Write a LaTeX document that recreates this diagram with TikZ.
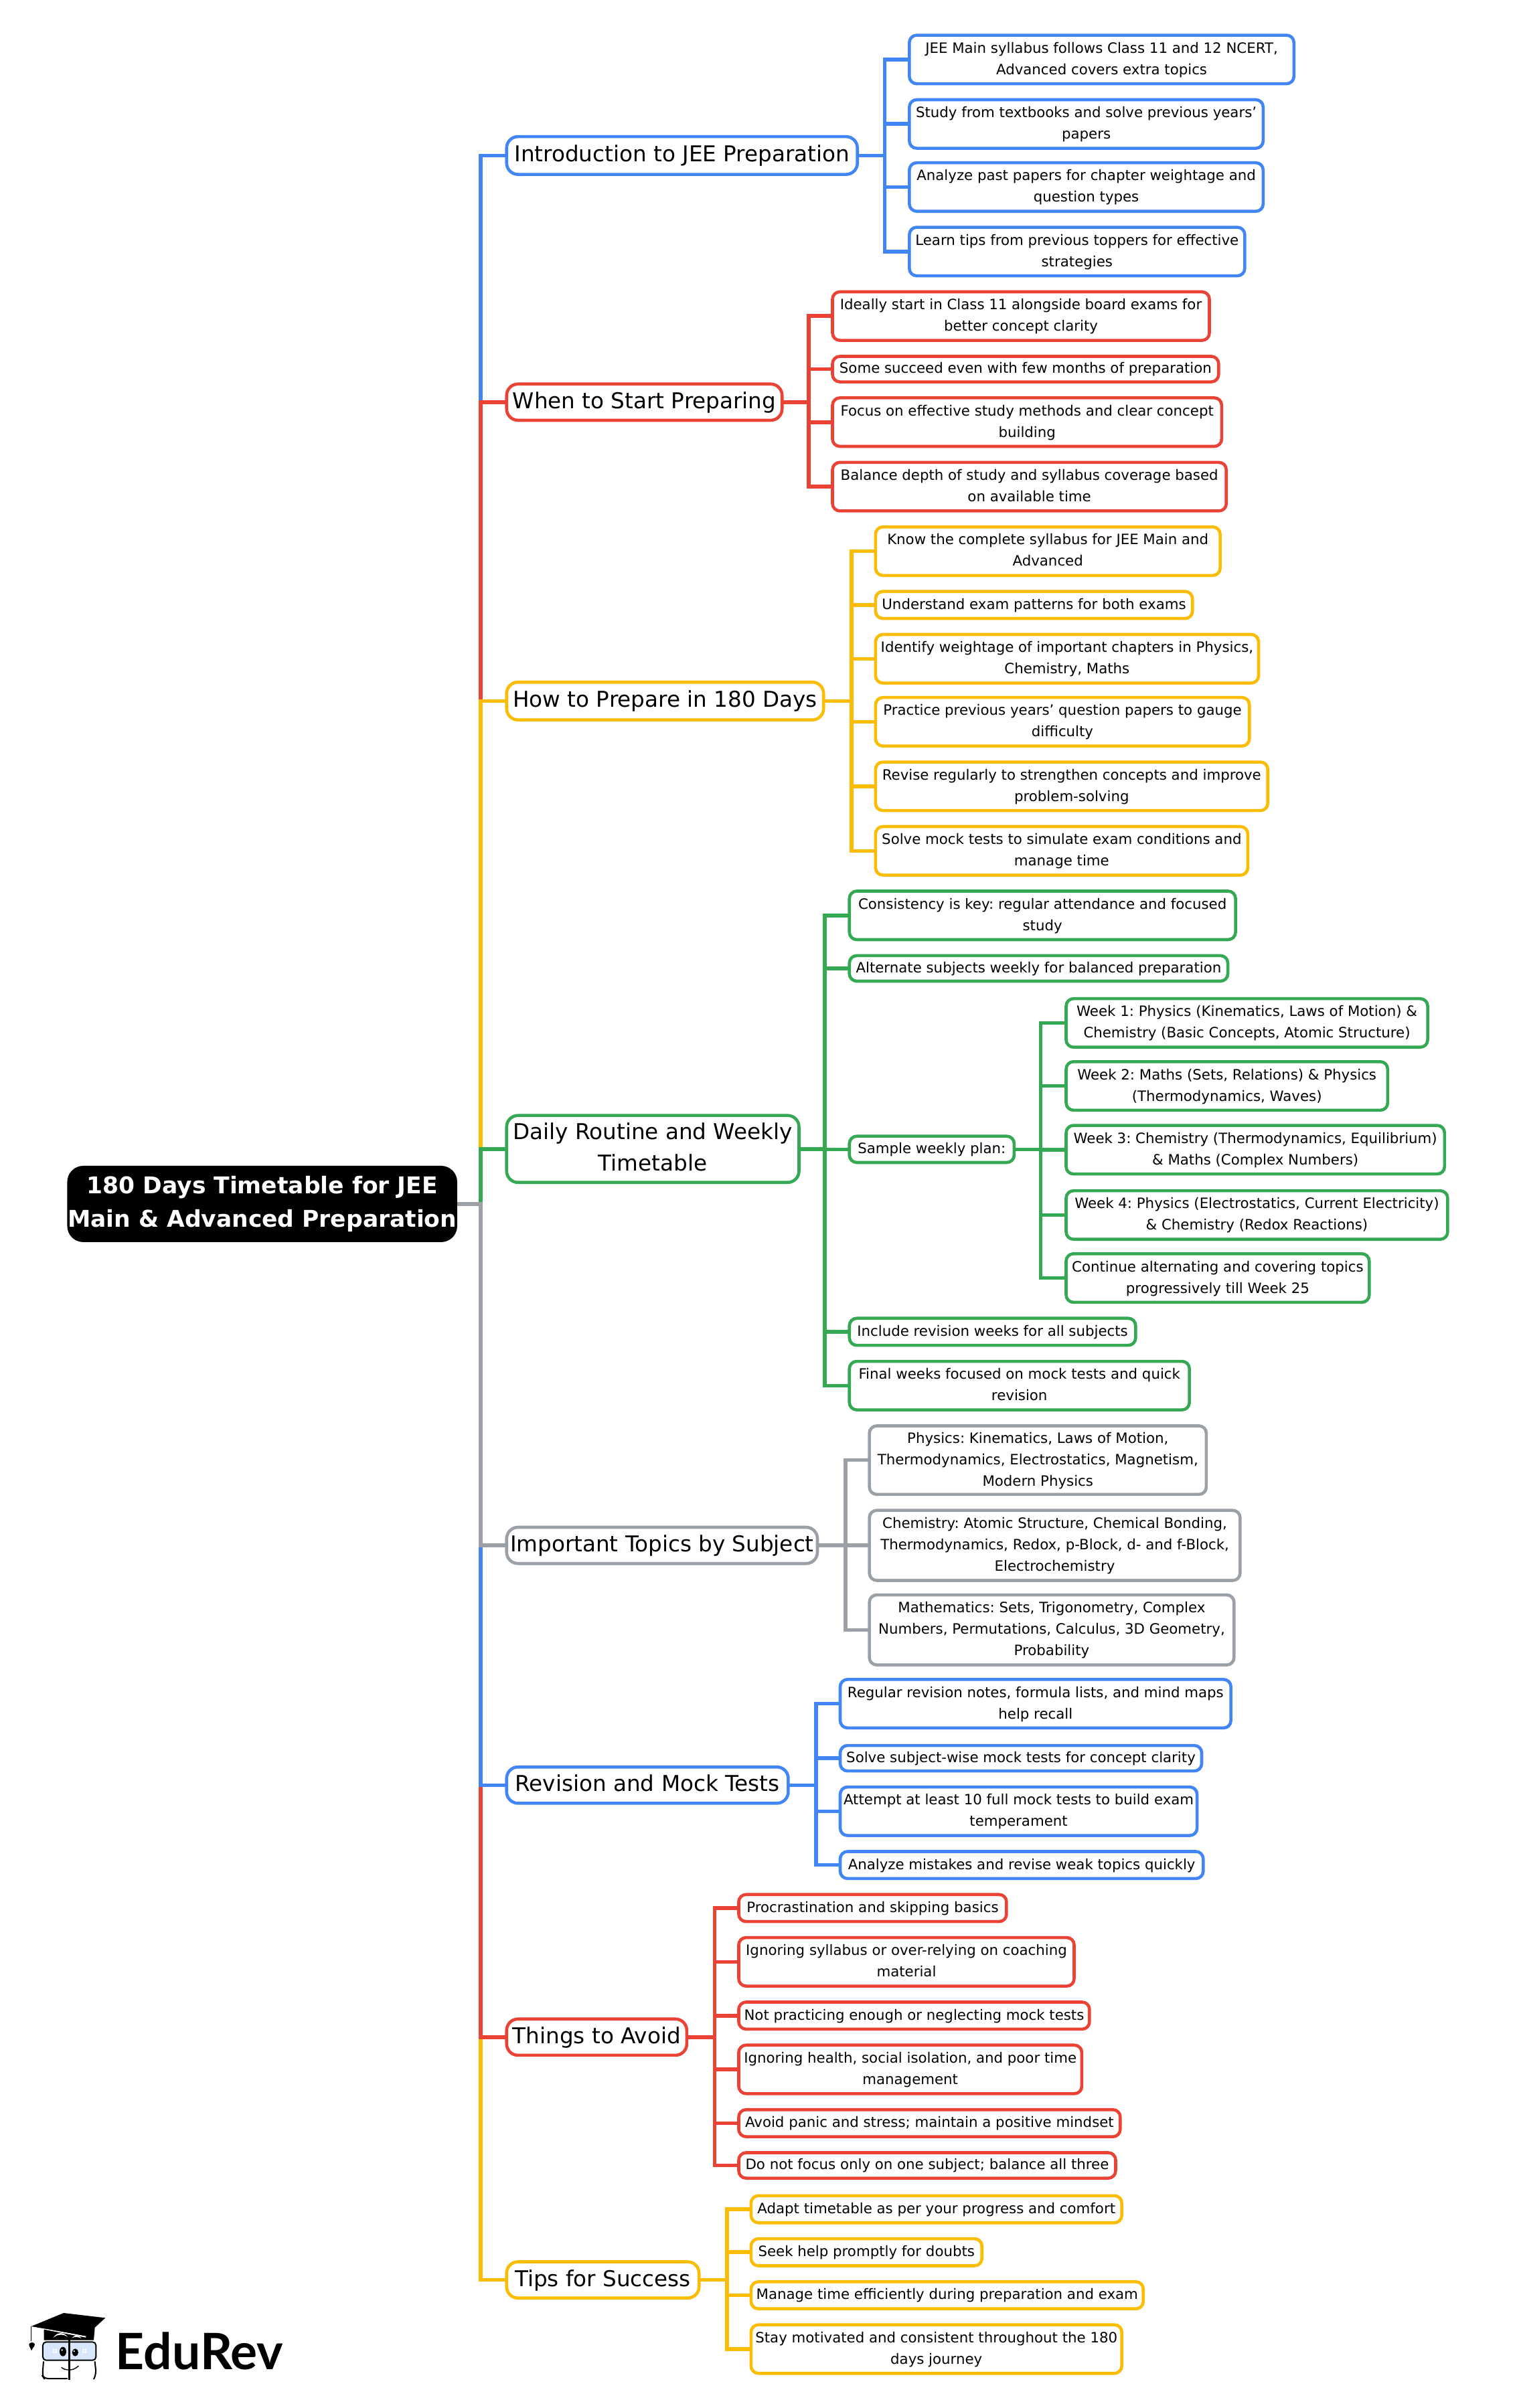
\documentclass[tikz,border=0pt]{standalone}
\usepackage{fontspec}
\setmainfont{DejaVu Sans}
\newfontfamily\logofont{Lato}
\frenchspacing
\definecolor{cB}{HTML}{4285F4}
\definecolor{cR}{HTML}{EA4335}
\definecolor{cY}{HTML}{FBBC04}
\definecolor{cG}{HTML}{34A853}
\definecolor{cK}{HTML}{9AA0A6}
\tikzset{
  boxbase/.style={rectangle,inner sep=0pt,outer sep=0pt,text=black},
  lf/.style={boxbase,draw=#1,line width=4.6pt,rounded corners=11pt,font=\fontsize{21.3}{32}\selectfont,/utils/exec={\def\tshift{-1.3pt}}},
  br/.style={boxbase,draw=#1,line width=4.6pt,rounded corners=17pt,font=\fontsize{32.6}{47}\selectfont,/utils/exec={\def\tshift{-3pt}}},
  rootbox/.style={rectangle,inner sep=0pt,outer sep=0pt,fill=black,text=white,rounded corners=24pt,font=\fontsize{34.5}{50}\selectfont\bfseries,/utils/exec={\def\tshift{-3.3pt}}},
  conn/.style={draw=#1,line width=5.6pt,line join=miter,line cap=butt},
}
\newcommand\lines[1]{\raisebox{\tshift}{\begin{tabular}{@{}c@{}}#1\end{tabular}}}
\newcommand\bx[7]{%
  \pgfmathsetmacro\bw{(#4-#3-0.8)*2.296}%
  \pgfmathsetmacro\bh{(#6-#5-0.4)*2.296}%
  \node[#2,minimum width=\bw pt,minimum height=\bh pt] (#1) at ({(#3+#4)/2-0.8},{(#5+#6)/2-0.3}) {\lines{#7}};}
\begin{document}
\begin{tikzpicture}[x=2.296pt,y=-2.296pt]
\useasboundingbox (0,0) rectangle (986.93,1567.07);
% root
\node[rootbox,minimum width=582.5pt,minimum height=114pt] (root) at (170.6,783.5) {\lines{180 Days Timetable for JEE\\Main \& Advanced Preparation}};
% branches
\bx{intro}{br=cB}{330}{559}{89}{114}{Introduction to JEE Preparation}
\bx{when}{br=cR}{330}{510}{250}{274}{When to Start Preparing}
\bx{how}{br=cY}{330}{537}{444}{469}{How to Prepare in 180 Days}
\bx{daily}{br=cG}{330}{521}{726}{770}{Daily Routine and Weekly\\Timetable}
\bx{imp}{br=cK}{330}{533}{994}{1018}{Important Topics by Subject}
\bx{rev}{br=cB}{330}{514}{1150}{1174}{Revision and Mock Tests}
\bx{thi}{br=cR}{330}{448}{1314}{1338}{Things to Avoid}
\bx{tip}{br=cY}{330}{456}{1472}{1496}{Tips for Success}
% intro leaves
\bx{i1}{lf=cB}{592}{843}{23}{55}{JEE Main syllabus follows Class 11 and 12 NCERT,\\Advanced covers extra topics}
\bx{i2}{lf=cB}{592}{823}{65}{97}{Study from textbooks and solve previous years'\\papers}
\bx{i3}{lf=cB}{592}{823}{106}{138}{Analyze past papers for chapter weightage and\\question types}
\bx{i4}{lf=cB}{592}{811}{148}{180}{Learn tips from previous toppers for effective\\strategies}
% when leaves
\bx{w1}{lf=cR}{542}{788}{190}{222}{Ideally start in Class 11 alongside board exams for\\better concept clarity}
\bx{w2}{lf=cR}{542}{794}{232}{249}{Some succeed even with few months of preparation}
\bx{w3}{lf=cR}{542}{796}{259}{291}{Focus on effective study methods and clear concept\\building}
\bx{w4}{lf=cR}{542}{799}{301}{333}{Balance depth of study and syllabus coverage based\\on available time}
% how leaves
\bx{h1}{lf=cY}{570}{795}{343}{375}{Know the complete syllabus for JEE Main and\\Advanced}
\bx{h2}{lf=cY}{570}{777}{385}{403}{Understand exam patterns for both exams}
\bx{h3}{lf=cY}{570}{820}{413}{445}{Identify weightage of important chapters in Physics,\\Chemistry, Maths}
\bx{h4}{lf=cY}{570}{814}{454}{486}{Practice previous years' question papers to gauge\\difficulty}
\bx{h5}{lf=cY}{570}{826}{496}{528}{Revise regularly to strengthen concepts and improve\\problem-solving}
\bx{h6}{lf=cY}{570}{813}{538}{570}{Solve mock tests to simulate exam conditions and\\manage time}
% daily leaves
\bx{d1}{lf=cG}{553}{805}{580}{612}{Consistency is key: regular attendance and focused\\study}
\bx{d2}{lf=cG}{553}{800}{622}{639}{Alternate subjects weekly for balanced preparation}
\bx{d3}{lf=cG}{553}{661}{739.5}{757}{Sample weekly plan:}
\bx{d4}{lf=cG}{553}{740}{858}{876}{Include revision weeks for all subjects}
\bx{d5}{lf=cG}{553}{775}{886}{918}{Final weeks focused on mock tests and quick\\revision}
% weekly
\bx{s1}{lf=cG}{694}{930}{650}{682}{Week 1: Physics (Kinematics, Laws of Motion) \&\\Chemistry (Basic Concepts, Atomic Structure)}
\bx{s2}{lf=cG}{694}{904}{691}{723}{Week 2: Maths (Sets, Relations) \& Physics\\(Thermodynamics, Waves)}
\bx{s3}{lf=cG}{694}{941}{732.5}{764.5}{Week 3: Chemistry (Thermodynamics, Equilibrium)\\\& Maths (Complex Numbers)}
\bx{s4}{lf=cG}{694}{943}{775}{807}{Week 4: Physics (Electrostatics, Current Electricity)\\\& Chemistry (Redox Reactions)}
\bx{s5}{lf=cG}{694}{892}{816}{848}{Continue alternating and covering topics\\progressively till Week 25}
% important
\bx{m1}{lf=cK}{566}{786}{928}{973}{Physics: Kinematics, Laws of Motion,\\Thermodynamics, Electrostatics, Magnetism,\\Modern Physics}
\bx{m2}{lf=cK}{566}{808}{983}{1029}{Chemistry: Atomic Structure, Chemical Bonding,\\Thermodynamics, Redox, p-Block, d- and f-Block,\\Electrochemistry}
\bx{m3}{lf=cK}{566}{804}{1038}{1084}{Mathematics: Sets, Trigonometry, Complex\\Numbers, Permutations, Calculus, 3D Geometry,\\Probability}
% revision
\bx{r1}{lf=cB}{547}{802}{1093}{1125}{Regular revision notes, formula lists, and mind maps\\help recall}
\bx{r2}{lf=cB}{547}{783}{1136}{1153}{Solve subject-wise mock tests for concept clarity}
\bx{r3}{lf=cB}{547}{780}{1163}{1195}{Attempt at least 10 full mock tests to build exam\\temperament}
\bx{r4}{lf=cB}{547}{784}{1205}{1223}{Analyze mistakes and revise weak topics quickly}
% things
\bx{t1}{lf=cR}{481}{656}{1233}{1251}{Procrastination and skipping basics}
\bx{t2}{lf=cR}{481}{700}{1261}{1293}{Ignoring syllabus or over-relying on coaching\\material}
\bx{t3}{lf=cR}{481}{710}{1303}{1321}{Not practicing enough or neglecting mock tests}
\bx{t4}{lf=cR}{481}{705}{1331}{1363}{Ignoring health, social isolation, and poor time\\management}
\bx{t5}{lf=cR}{481}{730}{1373}{1391}{Avoid panic and stress; maintain a positive mindset}
\bx{t6}{lf=cR}{481}{727}{1401}{1418}{Do not focus only on one subject; balance all three}
% tips
\bx{u1}{lf=cY}{489}{731}{1429}{1447}{Adapt timetable as per your progress and comfort}
\bx{u2}{lf=cY}{489}{640}{1457}{1475}{Seek help promptly for doubts}
\bx{u3}{lf=cY}{489}{745}{1485}{1503}{Manage time efficiently during preparation and exam}
\bx{u4}{lf=cY}{489}{731}{1513}{1545}{Stay motivated and consistent throughout the 180\\days journey}
% trunk
\coordinate (T) at (312.8,790);
\foreach \b/\c in {intro/cB,when/cR,how/cY,daily/cG,tip/cY,thi/cR,rev/cB,imp/cK}
  \draw[conn=\c] (root.east) -- (root.east -| T) |- (\b.west);
% sub trunks
\coordinate (sI) at (575.5,0);
\coordinate (sW) at (526,0);
\coordinate (sH) at (554,0);
\coordinate (sD) at (536.5,0);
\coordinate (sS) at (677,0);
\coordinate (sM) at (550,0);
\coordinate (sR) at (531,0);
\coordinate (sT) at (465,0);
\coordinate (sU) at (473,0);
\foreach \l in {i1,i2,i3,i4} \draw[conn=cB] (intro.east) -- (intro.east -| sI) |- (\l.west);
\foreach \l in {w1,w2,w3,w4} \draw[conn=cR] (when.east) -- (when.east -| sW) |- (\l.west);
\foreach \l in {h1,h2,h3,h4,h5,h6} \draw[conn=cY] (how.east) -- (how.east -| sH) |- (\l.west);
\foreach \l in {d1,d2,d3,d4,d5} \draw[conn=cG] (daily.east) -- (daily.east -| sD) |- (\l.west);
\foreach \l in {s1,s2,s3,s4,s5} \draw[conn=cG] (d3.east) -- (d3.east -| sS) |- (\l.west);
\foreach \l in {m1,m2,m3} \draw[conn=cK] (imp.east) -- (imp.east -| sM) |- (\l.west);
\foreach \l in {r1,r2,r3,r4} \draw[conn=cB] (rev.east) -- (rev.east -| sR) |- (\l.west);
\foreach \l in {t1,t2,t3,t4,t5,t6} \draw[conn=cR] (thi.east) -- (thi.east -| sT) |- (\l.west);
\foreach \l in {u1,u2,u3,u4} \draw[conn=cY] (tip.east) -- (tip.east -| sU) |- (\l.west);
% logo
\node[anchor=base west,inner sep=0pt,font=\fontsize{75}{75}\selectfont\logofont\bfseries] (logo) at (75.2,1542) {EduRev};
\begin{scope}[x=0.3333pt,y=-0.3333pt,shift={(0pt,-3350pt)}]
 \fill (197,388) -- (197,440) -- (420,440) -- (425,385) -- cycle;
 \fill[white] (238,430) .. controls (255,402) and (285,402) .. (303,425) .. controls (285,412) and (255,412) .. (238,430) -- cycle;
 \fill[white] (322,430) .. controls (335,415) and (352,415) .. (365,432) .. controls (350,424) and (335,424) .. (322,430) -- cycle;
 \draw[white,line width=2pt] (140,378) -- (385,425);
 \fill (140,378) -- (285,318) -- (472,340) -- (385,420) -- cycle;
 \draw[line width=1.6pt] (140,378) -- (140,445);
 \fill (130,458) .. controls (135,450) and (148,445) .. (156,458) .. controls (155,470) and (145,475) .. (141,487) .. controls (138,475) and (130,470) .. (130,458) -- cycle;
 \draw[line width=2pt,fill=cB!20!white,rounded corners=5pt] (192,448) rectangle (430,530);
 \draw[line width=2pt,rounded corners=6pt] (195,535) -- (190,600) -- (198,612) -- (303,612);
 \draw[line width=2pt,rounded corners=6pt] (425,535) -- (431,590) -- (420,615);
 \draw[line width=3pt] (312,438) -- (312,617);
 \fill (282,491) ellipse [x radius=15,y radius=21];
 \fill (337,495) ellipse [x radius=14,y radius=17];
 \fill[white] (278,484) circle (4);
 \fill[white] (332,489) circle (4);
 \fill[white] (236,480) rectangle (254,497);
 \fill[white] (368,480) rectangle (386,497);
 \draw[cB!20!white,line width=.8pt] (245,480) -- (245,497) (236,488) -- (254,488) (377,480) -- (377,497) (368,488) -- (386,488);
 \draw[line width=1.4pt] (275,562) .. controls (295,578) and (330,578) .. (352,555);
\end{scope}
\end{tikzpicture}
\end{document}
